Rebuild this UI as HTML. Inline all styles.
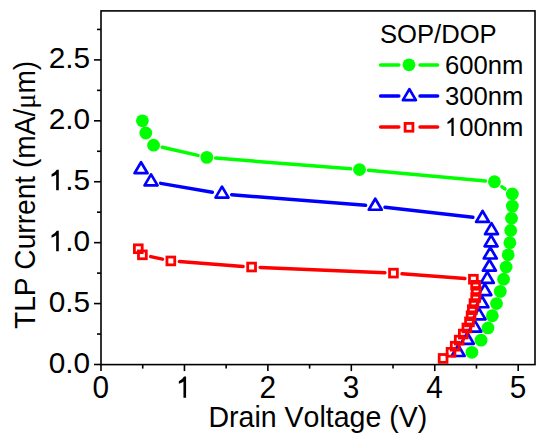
<!DOCTYPE html>
<html><head><meta charset="utf-8"><style>
html,body{margin:0;padding:0;background:#fff;width:550px;height:442px;overflow:hidden;}
text{font-kerning:none;}
svg{display:block;}
text{font-family:"Liberation Sans",sans-serif;}
</style></head><body>
<svg width="550" height="442" viewBox="0 0 550 442"><g stroke="#00ff00" stroke-width="3.5" stroke-linecap="round"><line x1="162.29" y1="147.18" x2="198.08" y2="155.38"/><line x1="215.72" y1="158.08" x2="350.58" y2="168.84"/><line x1="368.41" y1="170.36" x2="485.51" y2="180.94"/><line x1="501.82" y1="186.77" x2="504.96" y2="188.90"/></g>
<g fill="#00ff00"><circle cx="142.39" cy="120.82" r="6.4"/><circle cx="145.81" cy="133.00" r="6.4"/><circle cx="153.57" cy="145.19" r="6.4"/><circle cx="206.80" cy="157.37" r="6.4"/><circle cx="359.50" cy="169.56" r="6.4"/><circle cx="494.42" cy="181.74" r="6.4"/><circle cx="512.36" cy="193.92" r="6.4"/><circle cx="512.36" cy="206.11" r="6.4"/><circle cx="511.52" cy="218.29" r="6.4"/><circle cx="510.69" cy="230.48" r="6.4"/><circle cx="509.86" cy="242.66" r="6.4"/><circle cx="508.19" cy="254.84" r="6.4"/><circle cx="506.10" cy="267.03" r="6.4"/><circle cx="503.60" cy="279.21" r="6.4"/><circle cx="500.26" cy="291.40" r="6.4"/><circle cx="496.51" cy="303.58" r="6.4"/><circle cx="492.33" cy="315.76" r="6.4"/><circle cx="487.99" cy="327.95" r="6.4"/><circle cx="481.07" cy="340.13" r="6.4"/><circle cx="471.89" cy="352.32" r="6.4"/></g>
<g stroke="#0000ff" stroke-width="3.5" stroke-linecap="round"><line x1="160.67" y1="183.39" x2="212.38" y2="192.27"/><line x1="231.71" y1="194.70" x2="365.55" y2="205.34"/><line x1="384.96" y1="207.21" x2="472.88" y2="217.19"/></g>
<g fill="none" stroke="#0000ff" stroke-width="2.7" stroke-linejoin="round"><path d="M141.05,162.22L147.55,173.22L134.55,173.22Z"/><path d="M151.06,174.41L157.56,185.41L144.56,185.41Z"/><path d="M221.99,186.59L228.49,197.59L215.49,197.59Z"/><path d="M375.27,198.77L381.77,209.77L368.77,209.77Z"/><path d="M482.57,210.96L489.07,221.96L476.07,221.96Z"/><path d="M491.50,223.14L498.00,234.14L485.00,234.14Z"/><path d="M491.08,235.33L497.58,246.33L484.58,246.33Z"/><path d="M490.25,247.51L496.75,258.51L483.75,258.51Z"/><path d="M489.41,259.69L495.91,270.69L482.91,270.69Z"/><path d="M487.33,271.88L493.83,282.88L480.83,282.88Z"/><path d="M484.82,284.06L491.32,295.06L478.32,295.06Z"/><path d="M481.90,296.25L488.40,307.25L475.40,307.25Z"/><path d="M478.98,308.43L485.48,319.43L472.48,319.43Z"/><path d="M474.81,320.61L481.31,331.61L468.31,331.61Z"/><path d="M467.30,332.80L473.80,343.80L460.80,343.80Z"/><path d="M458.12,344.98L464.62,355.98L451.62,355.98Z"/></g>
<g stroke="#ff0000" stroke-width="3.5" stroke-linecap="round"><line x1="150.75" y1="256.63" x2="162.48" y2="259.15"/><line x1="179.37" y1="261.58" x2="243.08" y2="266.38"/><line x1="260.15" y1="267.39" x2="384.92" y2="272.75"/><line x1="401.98" y1="273.77" x2="464.87" y2="278.56"/></g>
<g fill="none" stroke="#ff0000" stroke-width="2.8"><rect x="134.40" y="244.85" width="7.80" height="7.80"/><rect x="138.49" y="250.94" width="7.80" height="7.80"/><rect x="166.94" y="257.04" width="7.80" height="7.80"/><rect x="247.71" y="263.13" width="7.80" height="7.80"/><rect x="389.56" y="269.22" width="7.80" height="7.80"/><rect x="469.49" y="275.31" width="7.80" height="7.80"/><rect x="471.75" y="281.40" width="7.80" height="7.80"/><rect x="472.33" y="287.50" width="7.80" height="7.80"/><rect x="471.75" y="293.59" width="7.80" height="7.80"/><rect x="470.08" y="299.68" width="7.80" height="7.80"/><rect x="468.41" y="305.77" width="7.80" height="7.80"/><rect x="467.16" y="311.86" width="7.80" height="7.80"/><rect x="465.57" y="317.96" width="7.80" height="7.80"/><rect x="462.98" y="324.05" width="7.80" height="7.80"/><rect x="459.40" y="330.14" width="7.80" height="7.80"/><rect x="455.31" y="336.23" width="7.80" height="7.80"/><rect x="451.30" y="342.32" width="7.80" height="7.80"/><rect x="447.13" y="348.42" width="7.80" height="7.80"/><rect x="439.20" y="354.51" width="7.80" height="7.80"/></g>
<g stroke="#000" stroke-width="1.6"><rect x="101.0" y="10.9" width="434.0" height="353.70000000000005" fill="none" stroke="#000" stroke-width="1.6"/><line x1="94.0" y1="364.50" x2="101.0" y2="364.50"/><line x1="94.0" y1="303.58" x2="101.0" y2="303.58"/><line x1="94.0" y1="242.66" x2="101.0" y2="242.66"/><line x1="94.0" y1="181.74" x2="101.0" y2="181.74"/><line x1="94.0" y1="120.82" x2="101.0" y2="120.82"/><line x1="94.0" y1="59.90" x2="101.0" y2="59.90"/><line x1="97.0" y1="334.04" x2="101.0" y2="334.04"/><line x1="97.0" y1="273.12" x2="101.0" y2="273.12"/><line x1="97.0" y1="212.20" x2="101.0" y2="212.20"/><line x1="97.0" y1="151.28" x2="101.0" y2="151.28"/><line x1="97.0" y1="90.36" x2="101.0" y2="90.36"/><line x1="97.0" y1="29.44" x2="101.0" y2="29.44"/><line x1="101.00" y1="364.6" x2="101.00" y2="371.1"/><line x1="184.44" y1="364.6" x2="184.44" y2="371.1"/><line x1="267.88" y1="364.6" x2="267.88" y2="371.1"/><line x1="351.32" y1="364.6" x2="351.32" y2="371.1"/><line x1="434.76" y1="364.6" x2="434.76" y2="371.1"/><line x1="518.20" y1="364.6" x2="518.20" y2="371.1"/><line x1="142.72" y1="364.6" x2="142.72" y2="368.6"/><line x1="226.16" y1="364.6" x2="226.16" y2="368.6"/><line x1="309.60" y1="364.6" x2="309.60" y2="368.6"/><line x1="393.04" y1="364.6" x2="393.04" y2="368.6"/><line x1="476.48" y1="364.6" x2="476.48" y2="368.6"/></g>
<g font-family="Liberation Sans, sans-serif" font-size="29.8" fill="#000"><text font-size="29.8" transform="translate(48.67,373.00) scale(1.0,1)">0.0</text><text font-size="29.8" transform="translate(48.67,312.08) scale(1.0,1)">0.5</text><text font-size="29.8" transform="translate(48.67,251.16) scale(1.0,1)"> .0</text><path transform="translate(48.67,251.16) scale(0.01455,-0.01455)" d="M696,0L515,0L515,1085Q420,1010 197,925L197,1095Q430,1190 555,1409L696,1409Z"/><text font-size="29.8" transform="translate(48.67,190.24) scale(1.0,1)"> .5</text><path transform="translate(48.67,190.24) scale(0.01455,-0.01455)" d="M696,0L515,0L515,1085Q420,1010 197,925L197,1095Q430,1190 555,1409L696,1409Z"/><text font-size="29.8" transform="translate(48.67,129.32) scale(1.0,1)">2.0</text><text font-size="29.8" transform="translate(48.67,68.40) scale(1.0,1)">2.5</text><text font-size="30.8" transform="translate(92.54,397.70) scale(0.965,1)">0</text><text font-size="30.8" transform="translate(175.98,397.70) scale(0.965,1)"> </text><path transform="translate(175.98,397.70) scale(0.01451,-0.01504)" d="M696,0L515,0L515,1085Q420,1010 197,925L197,1095Q430,1190 555,1409L696,1409Z"/><text font-size="30.8" transform="translate(259.42,397.70) scale(0.965,1)">2</text><text font-size="30.8" transform="translate(342.86,397.70) scale(0.965,1)">3</text><text font-size="30.8" transform="translate(426.30,397.70) scale(0.965,1)">4</text><text font-size="30.8" transform="translate(509.74,397.70) scale(0.965,1)">5</text></g>
<text font-family="Liberation Sans, sans-serif" font-size="29.2" transform="translate(317.8,427) scale(0.977,1)" text-anchor="middle">Drain Voltage (V)</text>
<text font-family="Liberation Sans, sans-serif" font-size="29.2" transform="translate(35,194.9) rotate(-90) scale(0.964,1)" text-anchor="middle">TLP Current (mA/<tspan font-family="Liberation Serif, serif">μ</tspan>m)</text>
<g font-family="Liberation Sans, sans-serif" font-size="26.6" fill="#000"><text transform="translate(380,42.5) scale(0.963,1)">SOP/DOP</text><text font-size="26.6" transform="translate(445.00,74.00) scale(0.963,1)">600nm</text><text font-size="26.6" transform="translate(445.00,105.10) scale(0.963,1)">300nm</text><text font-size="26.6" transform="translate(445.00,136.10) scale(0.963,1)"> 00nm</text><path transform="translate(445.00,136.10) scale(0.01251,-0.01299)" d="M696,0L515,0L515,1085Q420,1010 197,925L197,1095Q430,1190 555,1409L696,1409Z"/></g>
<g stroke="#00ff00" stroke-width="3.5" stroke-linecap="round"><line x1="380.6" y1="64.9" x2="398.8" y2="64.9"/><line x1="420" y1="64.9" x2="437.6" y2="64.9"/></g>
<g stroke="#0000ff" stroke-width="3.5" stroke-linecap="round"><line x1="380.6" y1="96.0" x2="398.8" y2="96.0"/><line x1="420" y1="96.0" x2="437.6" y2="96.0"/></g>
<g stroke="#ff0000" stroke-width="3.5" stroke-linecap="round"><line x1="380.6" y1="127.0" x2="398.8" y2="127.0"/><line x1="420" y1="127.0" x2="437.6" y2="127.0"/></g>
<circle cx="409" cy="64.8" r="6.4" fill="#00ff00"/>
<path d="M409.40,89.17L415.90,100.17L402.90,100.17Z" fill="none" stroke="#0000ff" stroke-width="2.7" stroke-linejoin="round"/>
<rect x="405.10" y="123.40" width="7.80" height="7.80" fill="none" stroke="#ff0000" stroke-width="2.8"/></svg>
</body></html>
